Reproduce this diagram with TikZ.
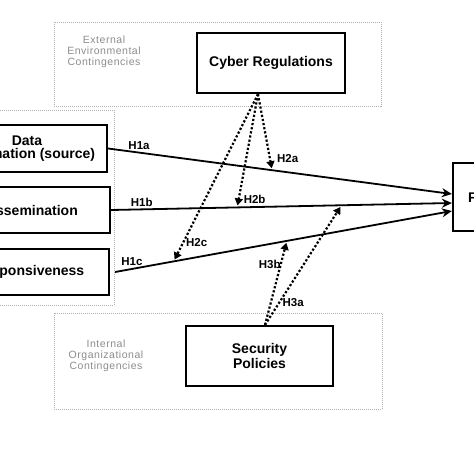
\documentclass[tikz,border=0pt]{standalone}
\usepackage{fontspec}
\setmainfont{Liberation Sans}
\newfontfamily\ctxfont[LetterSpace=5]{Liberation Sans}
\usetikzlibrary{arrows.meta}

\begin{document}
\begin{tikzpicture}[x=1pt, y=-1pt,
    ctx/.style={rectangle, draw=black!30, line width=0.6pt, dash pattern=on 1pt off 1pt},
    ctxtxt/.style={align=center, text=black!45, font=\ctxfont\fontsize{10.5}{11}\selectfont},
    var/.style={rectangle, draw=black, line width=2.2pt, align=center,
                font=\bfseries\fontsize{14}{13}\selectfont},
    hlbl/.style={font=\bfseries\fontsize{11.5}{12}\selectfont, inner sep=2pt},
    h1/.style={-{Stealth[length=10pt,width=9pt]}, line width=1.8pt},
    h2/.style={-{Triangle[length=7pt,width=8pt]}, line width=2.2pt,
               dash pattern=on 2.2pt off 2pt, shorten >=2pt}
]
\useasboundingbox (0,0) rectangle (474,474);
\clip (0,0) rectangle (474,474);

\node[ctx, minimum width=327pt, minimum height=84pt] (extctx) at (217.5,64) {};
\node[ctxtxt] (extlbl) at (104,52) {External\\Environmental\\Contingencies};
\node[ctx, minimum width=328pt, minimum height=96pt] (intctx) at (218,361) {};
\node[ctxtxt] (intlbl) at (106,356) {Internal\\Organizational\\Contingencies};
\node[ctx, minimum width=200pt, minimum height=195pt] (infctx) at (14,207.5) {};

\node[var, minimum width=148pt, minimum height=60pt] (cyber) at (271,63) {Cyber Regulations};
\node[var, minimum width=147pt, minimum height=60pt] (secpol) at (259.5,356) {Security\\Policies};
\node[var, minimum width=160pt, minimum height=47pt] (infsrc) at (27,148.5) {Data\\Information (source)};
\node[var, minimum width=160pt, minimum height=46pt] (dissem) at (30,210) {Dissemination};
\node[var, minimum width=160pt, minimum height=46pt] (respon) at (29,272) {Responsiveness};
\node[var, minimum width=150pt, minimum height=68pt] (outcome) at (528,197) {Firm Performance};

\draw[h1] (infsrc.east) -- node[hlbl, above, pos=0.09] {H1a}
    coordinate[pos=0.477] (h2a_end) ([yshift=3pt]outcome.west);
\draw[h1] (dissem.east) -- node[hlbl, above, pos=0.09] {H1b}
    coordinate[pos=0.370] (h2b_end) coordinate[pos=0.676] (h3a_end) ([yshift=-6pt]outcome.west);
\draw[h1] ([xshift=5pt]respon.east) -- node[hlbl, above, pos=0.05] {H1c}
    coordinate[pos=0.174] (h2c_end) coordinate[pos=0.510] (h3b_end) ([yshift=-14pt]outcome.west);

\draw[h2] ([xshift=-13pt]cyber.south) -- node[hlbl, right, pos=0.85, xshift=4pt] {H2a} (h2a_end);
\draw[h2] ([xshift=-13pt]cyber.south) -- node[hlbl, right, pos=0.93, xshift=2pt] {H2b} (h2b_end);
\draw[h2] ([xshift=-13pt]cyber.south) -- node[hlbl, right, pos=0.89] {H2c} (h2c_end);
\draw[h2] ([xshift=5.5pt]secpol.north) -- node[hlbl, left, pos=0.72, xshift=3pt] {H3b} (h3b_end);
\draw[h2] ([xshift=5.5pt]secpol.north) -- node[hlbl, right, pos=0.19] {H3a} (h3a_end);
\end{tikzpicture}
\end{document}
